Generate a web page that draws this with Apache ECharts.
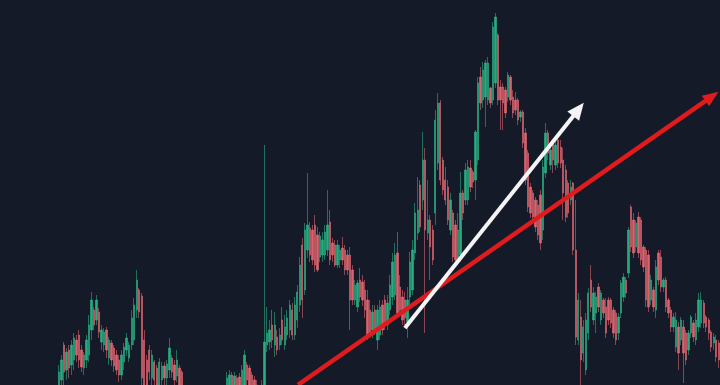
<!DOCTYPE html>
<html>
<head>
<meta charset="utf-8">
<script src="https://cdn.jsdelivr.net/npm/echarts@6/dist/echarts.min.js"></script>
<style>
html,body{margin:0;padding:0;background:#151a29;}
#chart{width:720px;height:385px;}
</style>
</head>
<body>
<div id="chart"></div>
<script>
// Candles as [open, close, low, high]
// Number of candles that sit entirely below the visible window
const hiddenBefore = 23;
const hiddenBetween = 17;

const segmentA = [
[-5,13,-10,20],[5,25,-5,30],[40,13,0,43],[15,33,5,37],[35,17,7,40],[20,40,10,45],[25,47,15,52],[45,30,23,50],[50,25,17,55],[35,18,13,40],
[17,30,10,33],[25,45,17,50],[30,60,23,70],[55,85,45,93],[75,60,55,78],[65,85,60,90],[73,53,47,77],[43,55,35,60],[40,53,33,57],[55,35,27,58],
[27,45,20,48],[42,25,19,45],[37,19,13,40],[30,15,10,35],[25,10,3,30],[10,30,5,35],[23,38,15,42],[35,47,29,52],[27,40,23,43],[40,67,35,75],
[45,80,40,87],[75,105,67,115],[95,73,67,97],[89,7,0,92],[45,0,-10,55],[25,0,-10,30],[35,13,5,40],[7,30,0,35],[23,5,-3,25],[17,0,-7,20],
[0,23,-7,27],[5,19,-3,23],[19,7,0,23],[7,21,0,25],[15,37,7,47],[27,13,7,30],[20,5,-3,25],[9,25,3,35],[17,0,-7,20],[13,-5,-13,15]
];

const segmentB = [
[-7,7,-13,13],[-5,10,-13,15],[10,-3,-10,13],[-5,9,-10,13],[7,-7,-13,10],[8,-5,-10,12],[-5,15,-10,20],[0,30,-7,35],[20,5,0,23],[17,0,-5,20],
[10,-5,-13,13],[5,-7,-13,9],[0,-10,-15,5],[-15,-5,-20,0],[-13,0,-17,5],
[-15,43,-20,240],[40,52,33,78],[43,55,35,65],[60,45,37,75],[40,60,28,73],[48,35,30,55],[40,50,35,57],[65,45,40,78],[40,58,35,70],[50,67,45,75],
[55,80,47,85],[75,50,45,82],[50,80,45,88],[65,93,57,100],[80,120,73,128],[140,85,67,147],[95,155,90,162],[135,160,127,212],[157,130,123,163],
[155,125,120,160],[160,120,113,170],[150,115,113,158],[128,149,123,153],[130,145,123,153],[130,153,125,160],[135,160,129,195],[163,125,120,175],
[142,130,123,147],[140,120,118,145],[120,140,117,145],[125,135,117,140],[137,125,120,148],[135,115,110,140],[130,115,110,135],[130,85,55,138],
[115,85,80,120],[85,100,80,105],[78,102,73,105],[105,88,83,117],[103,85,79,110],[95,75,67,105],[85,50,45,95],[75,50,47,85],[55,73,47,80],
[75,55,50,80],[45,75,35,80],[50,78,45,85],[80,55,50,85],[85,60,55,90],[60,82,55,90],[75,100,70,110],[88,123,80,132],[90,130,85,142],
[132,72,67,153],[98,75,70,110],[88,65,60,95],[85,67,60,93],[63,85,47,98],[88,123,80,133],[95,135,90,145],[132,172,125,182],[152,175,145,208],
[200,158,153,205],[185,225,175,253],[225,155,52,237],[152,165,145,205],[165,138,105,170],[155,125,120,160],[172,265,160,275],[222,282,215,292],
[282,205,200,285],[225,195,190,228],[205,185,180,218],[198,165,160,205],[155,185,150,192],[172,128,123,175],[160,125,120,165],[125,155,120,172],
[130,192,123,213],[192,172,165,195],[185,215,180,222],[185,218,180,225],[217,198,193,225],[213,203,197,215],[205,253,185,255],[225,302,220,308],
[308,282,275,318],[285,315,277,323],[288,322,258,325],[285,322,280,328],[297,282,277,298],[285,358,280,363],[302,368,297,372],[350,285,280,352],
[298,285,255,305],[298,282,255,302],[295,272,267,298],[288,310,283,313],[308,285,280,310],[288,272,267,295],[285,275,270,293],[285,265,260,287],
[268,273,263,275],[273,242,237,275],[252,205,200,257],[232,178,173,235],[198,172,167,202],[192,168,163,195],[185,158,153,188],[180,150,145,185],
[190,142,135,195],[155,218,145,225],[212,252,207,262],[252,232,225,255],[220,235,215,242],[243,225,212,245],[220,240,215,245],[245,222,217,248],
[238,222,217,245],[225,192,165,237],[215,168,163,220],[202,172,167,205],[185,198,180,205],[202,135,130,203],[135,48,40,185],[45,85,40,92],
[68,25,0,85],[32,58,23,65],[15,65,10,72],[52,92,45,97],[105,78,73,120],[65,92,60,98],[72,88,52,93],[98,78,73,102],[65,92,60,95],[85,72,67,87],
[78,52,47,87],[85,65,60,88],[85,62,57,87],[75,52,47,78],[72,45,40,75],[52,68,45,72],[72,102,67,105],[88,108,83,112],[105,92,87,108],
[112,155,107,158],[178,138,133,180],[165,132,127,172],[138,162,133,165],[168,132,127,173],[165,125,120,168],[138,118,113,140],[135,85,78,138],
[130,78,73,135],[85,105,80,110],[95,78,73,98],[75,118,67,125],[132,105,100,135],[128,98,93,135],[98,105,93,107],[105,78,73,108],[85,72,67,87],
[75,58,53,78],[58,68,53,72],[38,65,33,73],[58,32,15,63],[45,65,40,68],[58,32,2,65],[52,25,20,55],[35,52,30,55],[52,68,47,70],[62,48,43,65],
[45,65,40,72],[58,85,53,92],[62,85,57,93],[82,62,57,85],[68,58,53,70],[65,52,45,67],[53,38,33,55],[42,48,35,52],[45,28,23,50],[42,25,17,45]
];

// Trend arrows: [candle position, price] for start and arrowhead
const redArrow = [[118.8, 0.2], [283.8, 288.6]];
const whiteArrow = [[161.4, 57], [230.6, 275.5]];

const hidden = ['-','-','-','-'];
const candles = [];
for (let i = 0; i < hiddenBefore; i++) candles.push(hidden);
segmentA.forEach(c => candles.push(c));
for (let i = 0; i < hiddenBetween; i++) candles.push(hidden);
segmentB.forEach(c => candles.push(c));
const categories = candles.map((_, i) => String(i + 1));
const N = categories.length;

const chart = echarts.init(document.getElementById('chart'), null, {renderer: 'canvas'});
chart.setOption({
  backgroundColor: '#151a29',
  animation: false,
  grid: {left: 0, right: 0, top: 0, bottom: 0},
  xAxis: [
    {type: 'category', data: categories, show: false, boundaryGap: true},
    {type: 'value', min: 0, max: N, show: false}
  ],
  yAxis: [{type: 'value', min: 0, max: 385, show: false}],
  series: [
    {
      type: 'candlestick',
      data: candles,
      barWidth: '75%',
      clip: true,
      itemStyle: {
        color: '#2bbb8a',
        color0: '#ee6b73',
        borderColor: '#2bbb8a',
        borderColor0: '#ee6b73',
        borderWidth: 0.6,
        opacity: 0.9
      }
    },
    {
      type: 'line',
      xAxisIndex: 1,
      data: [],
      markLine: {
        silent: true,
        symbol: ['none', 'triangle'],
        label: {show: false},
        data: [
          [{coord: redArrow[0], symbol: 'none'}, {coord: redArrow[1], symbol: 'triangle', symbolSize: [13, 16], lineStyle: {color: '#e01b1e', width: 4.5, type: 'solid'}}],
          [{coord: whiteArrow[0], symbol: 'none'}, {coord: whiteArrow[1], symbol: 'triangle', symbolSize: [15, 17], lineStyle: {color: '#f4f4f4', width: 4, type: 'solid'}}]
        ]
      }
    }
  ]
});
</script>
</body>
</html>
